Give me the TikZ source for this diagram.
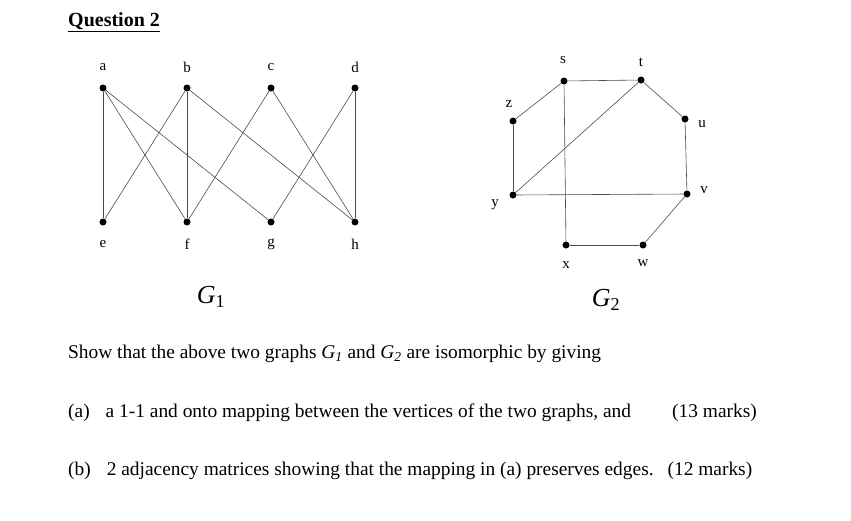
\documentclass[tikz,border=0pt]{standalone}
\usepackage{fontspec}
\setmainfont{Liberation Serif}
\begin{document}
\begin{tikzpicture}[x=1pt,y=-1pt,
  vtx/.style={circle,fill=black,inner sep=0pt,minimum size=7pt},
  lbl/.style={font=\fontsize{15}{15}\selectfont,inner sep=0pt},
  txt/.style={font=\fontsize{19.4}{21}\selectfont,anchor=west,inner sep=0pt},
  edge/.style={draw=black!70,line width=0.6pt}]
\useasboundingbox (0,0) rectangle (851,520);
\node[anchor=west,inner sep=0pt,font=\fontsize{20}{20}\selectfont\bfseries] (title) at (68,22) {\underline{Question 2}};
% G1
\foreach \n/\x in {a/103,b/187,c/271,d/355}{
  \node[vtx] (\n) at (\x,88) {};
  \node[lbl] (l\n) at (\x,67) {\n};}
\foreach \n/\x in {e/103,f/187,g/271,h/355}{
  \node[vtx] (\n) at (\x,222) {};
  \node[lbl] (l\n) at (\x,244) {\n};}
\foreach \p/\q in {a/e,a/f,a/g,b/e,b/f,b/h,c/f,c/h,d/g,d/h}
  \draw[edge] (\p) -- (\q);
% G2
\node[vtx] (s) at (564,81) {}; \node[lbl] (ls) at (563,60) {s};
\node[vtx] (t) at (641,80) {}; \node[lbl] (lt) at (641,62) {t};
\node[vtx] (z) at (513,121) {}; \node[lbl] (lz) at (509,104) {z};
\node[vtx] (u) at (685,119) {}; \node[lbl] (lu) at (702,124) {u};
\node[vtx] (y) at (513,195) {}; \node[lbl] (ly) at (495,205) {y};
\node[vtx] (v) at (687,194) {}; \node[lbl] (lv) at (704,190) {v};
\node[vtx] (x) at (566,245) {}; \node[lbl] (lx) at (566,265) {x};
\node[vtx] (w) at (643,245) {}; \node[lbl] (lw) at (643,263) {w};
\foreach \p/\q in {s/t,s/z,s/x,t/u,t/y,z/y,y/v,u/v,v/w,x/w}
  \draw[edge] (\p) -- (\q);
\node[font=\fontsize{26}{26}\selectfont,inner sep=0pt] (g1) at (211,297) {\textit{G}\textsubscript{1}};
\node[font=\fontsize{26}{26}\selectfont,inner sep=0pt] (g2) at (606,300) {\textit{G}\textsubscript{2}};
\node[txt] (t1) at (68,354) {Show that the above two graphs \textit{G\textsubscript{1}} and \textit{G\textsubscript{2}} are isomorphic by giving};
\node[txt] (t2) at (68,413) {(a)\hspace{16pt}a 1-1 and onto mapping between the vertices of the two graphs, and};
\node[txt] (t3) at (672,413) {(13 marks)};
\node[txt] (t4) at (68,471) {(b)\hspace{16pt}2 adjacency matrices showing that the mapping in (a) preserves edges.\hspace{14pt}(12 marks)};
\end{tikzpicture}
\end{document}
